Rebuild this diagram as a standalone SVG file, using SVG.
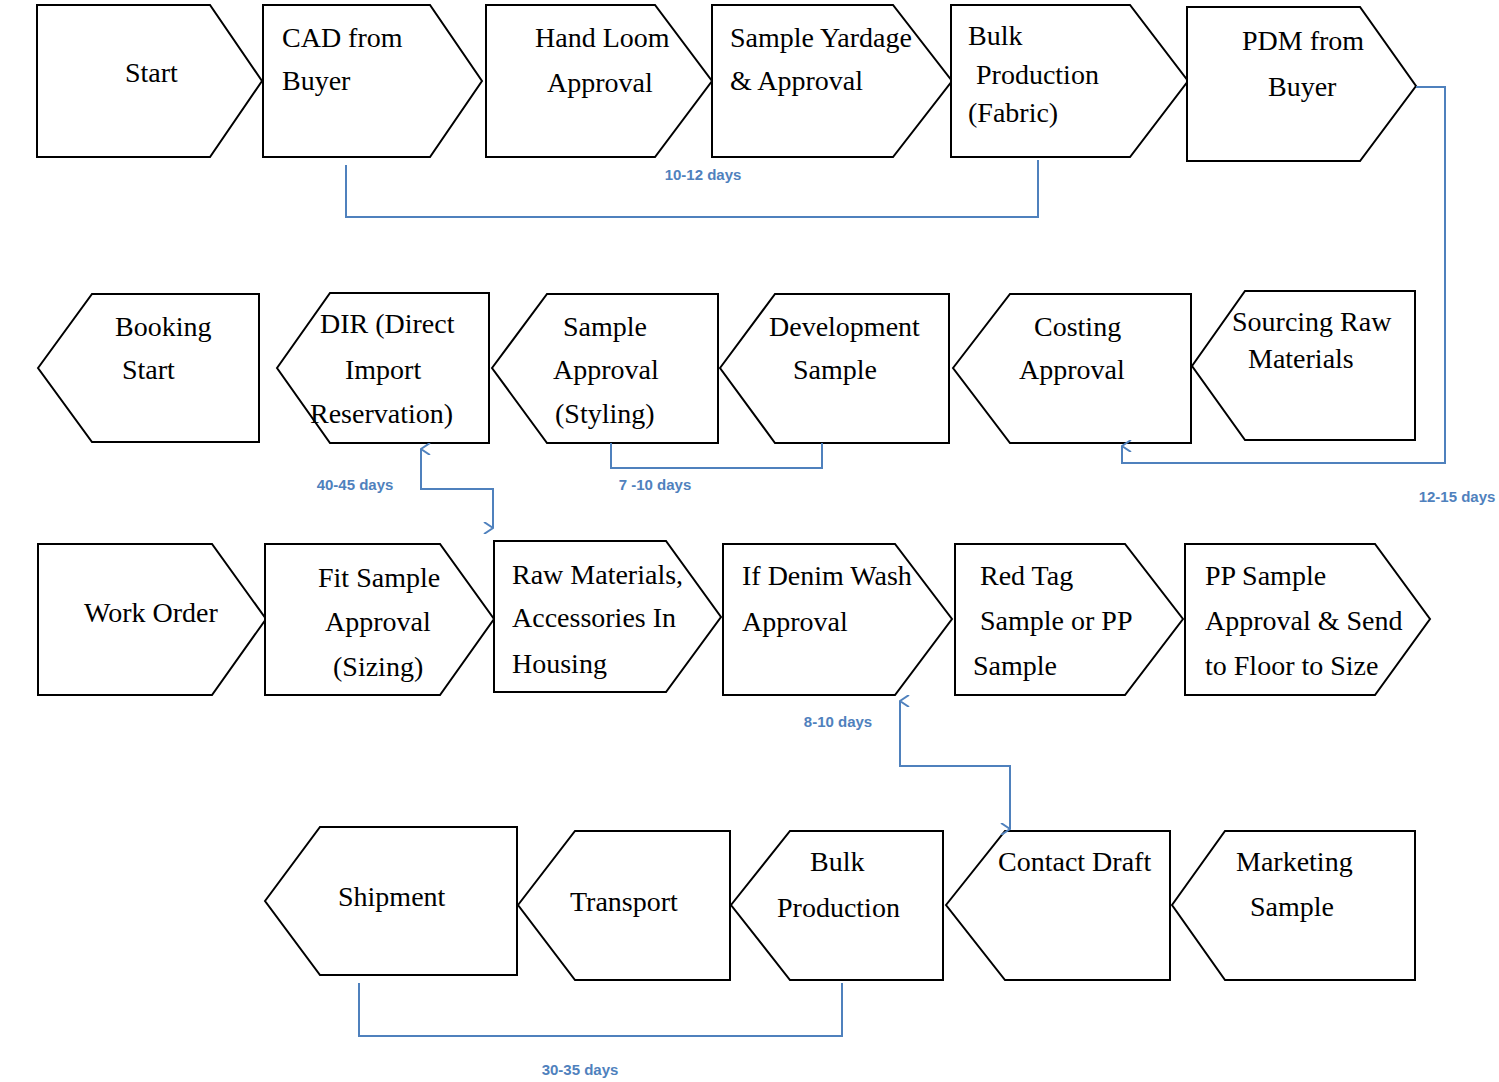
<svg xmlns="http://www.w3.org/2000/svg" width="1499" height="1082" viewBox="0 0 1499 1082">
<style>
.n polygon{fill:#fff;stroke:#000;stroke-width:2}
.n text{font-family:"Liberation Serif",serif;font-size:28px;fill:#000}
.c path{fill:none;stroke:#4f81bd;stroke-width:2}
.c text{font-family:"Liberation Sans",sans-serif;font-size:15px;font-weight:bold;fill:#4f81bd;text-anchor:middle}
</style>
<defs><marker id="a" viewBox="0 0 12 12" refX="6" refY="1" markerWidth="12" markerHeight="12" orient="auto-start-reverse" markerUnits="userSpaceOnUse"><path d="M0,10 L6,1 L12,10" fill="none" stroke="#4f81bd" stroke-width="2"/></marker></defs>
<rect width="1499" height="1082" fill="#fff"/>
<g class="n" id="start"><polygon points="37,5 210,5 262,81 210,157 37,157"/><text x="125" y="82">Start</text></g>
<g class="n" id="cad"><polygon points="263,5 430,5 482,81 430,157 263,157"/><text x="282" y="47">CAD from</text><text x="282" y="90">Buyer</text></g>
<g class="n" id="handloom"><polygon points="486,5 655,5 712,81 655,157 486,157"/><text x="535" y="47">Hand Loom</text><text x="547" y="92">Approval</text></g>
<g class="n" id="yardage"><polygon points="712,5 893,5 952,81 893,157 712,157"/><text x="730" y="47">Sample Yardage</text><text x="730" y="90">&amp; Approval</text></g>
<g class="n" id="bulkfab"><polygon points="951,5 1130,5 1188,81 1130,157 951,157"/><text x="968" y="45">Bulk</text><text x="976" y="84">Production</text><text x="968" y="122">(Fabric)</text></g>
<g class="n" id="pdm"><polygon points="1187,7 1360,7 1416,86 1360,161 1187,161"/><text x="1242" y="50">PDM from</text><text x="1268" y="96">Buyer</text></g>

<g class="n" id="booking"><polygon points="38,368 92,294 259,294 259,442 92,442"/><text x="115" y="336">Booking</text><text x="122" y="379">Start</text></g>
<g class="n" id="dir"><polygon points="277,368 330,293 489,293 489,443 330,443"/><text x="320" y="333">DIR (Direct</text><text x="345" y="379">Import</text><text x="310" y="423">Reservation)</text></g>
<g class="n" id="sampleappr"><polygon points="492,368 547,294 718,294 718,443 547,443"/><text x="563" y="336">Sample</text><text x="553" y="379">Approval</text><text x="555" y="423">(Styling)</text></g>
<g class="n" id="devsample"><polygon points="720,368 775,294 949,294 949,443 775,443"/><text x="769" y="336">Development</text><text x="793" y="379">Sample</text></g>
<g class="n" id="costing"><polygon points="953,368 1010,294 1191,294 1191,443 1010,443"/><text x="1034" y="336">Costing</text><text x="1019" y="379">Approval</text></g>
<g class="n" id="sourcing"><polygon points="1192,366 1245,291 1415,291 1415,440 1245,440"/><text x="1232" y="331">Sourcing Raw</text><text x="1248" y="368">Materials</text></g>

<g class="n" id="workorder"><polygon points="38,544 212,544 266,619 212,695 38,695"/><text x="84" y="622">Work Order</text></g>
<g class="n" id="fit"><polygon points="265,544 440,544 494,619 440,695 265,695"/><text x="318" y="587">Fit Sample</text><text x="325" y="631">Approval</text><text x="333" y="676">(Sizing)</text></g>
<g class="n" id="rawmat"><polygon points="494,541 666,541 721,617 666,692 494,692"/><text x="512" y="584">Raw Materials,</text><text x="512" y="627">Accessories In</text><text x="512" y="673">Housing</text></g>
<g class="n" id="denim"><polygon points="723,544 895,544 952,619 895,695 723,695"/><text x="742" y="585">If Denim Wash</text><text x="742" y="631">Approval</text></g>
<g class="n" id="redtag"><polygon points="955,544 1125,544 1183,619 1125,695 955,695"/><text x="980" y="585">Red Tag</text><text x="980" y="630">Sample or PP</text><text x="973" y="675">Sample</text></g>
<g class="n" id="pp"><polygon points="1185,544 1375,544 1430,619 1375,695 1185,695"/><text x="1205" y="585">PP Sample</text><text x="1205" y="630">Approval &amp; Send</text><text x="1205" y="675">to Floor to Size</text></g>

<g class="n" id="shipment"><polygon points="265,901 320,827 517,827 517,975 320,975"/><text x="338" y="906">Shipment</text></g>
<g class="n" id="transport"><polygon points="518,905 575,831 730,831 730,980 575,980"/><text x="570" y="911">Transport</text></g>
<g class="n" id="bulkprod"><polygon points="731,905 790,831 943,831 943,980 790,980"/><text x="810" y="871">Bulk</text><text x="777" y="917">Production</text></g>
<g class="n" id="contact"><polygon points="946,905 1005,831 1170,831 1170,980 1005,980"/><text x="998" y="871">Contact Draft</text></g>
<g class="n" id="marketing"><polygon points="1172,905 1225,831 1415,831 1415,980 1225,980"/><text x="1236" y="871">Marketing</text><text x="1250" y="916">Sample</text></g>

<g class="c" id="connectors">
<path d="M346,165 V217 H1038 V160"/><text x="703" y="180">10-12 days</text>
<path d="M1416,87 H1445 V463 H1122 V446" marker-end="url(#a)"/><text x="1457" y="502">12-15 days</text>
<path d="M611,443 V468 H822 V443"/><text x="655" y="490">7 -10 days</text>
<path d="M421,449 V489 H493 V528" marker-start="url(#a)" marker-end="url(#a)"/><text x="355" y="490">40-45 days</text>
<path d="M900,701 V766 H1010 V829" marker-start="url(#a)" marker-end="url(#a)"/><text x="838" y="727">8-10 days</text>
<path d="M359,983 V1036 H842 V983"/><text x="580" y="1075">30-35 days</text>
</g>
</svg>
